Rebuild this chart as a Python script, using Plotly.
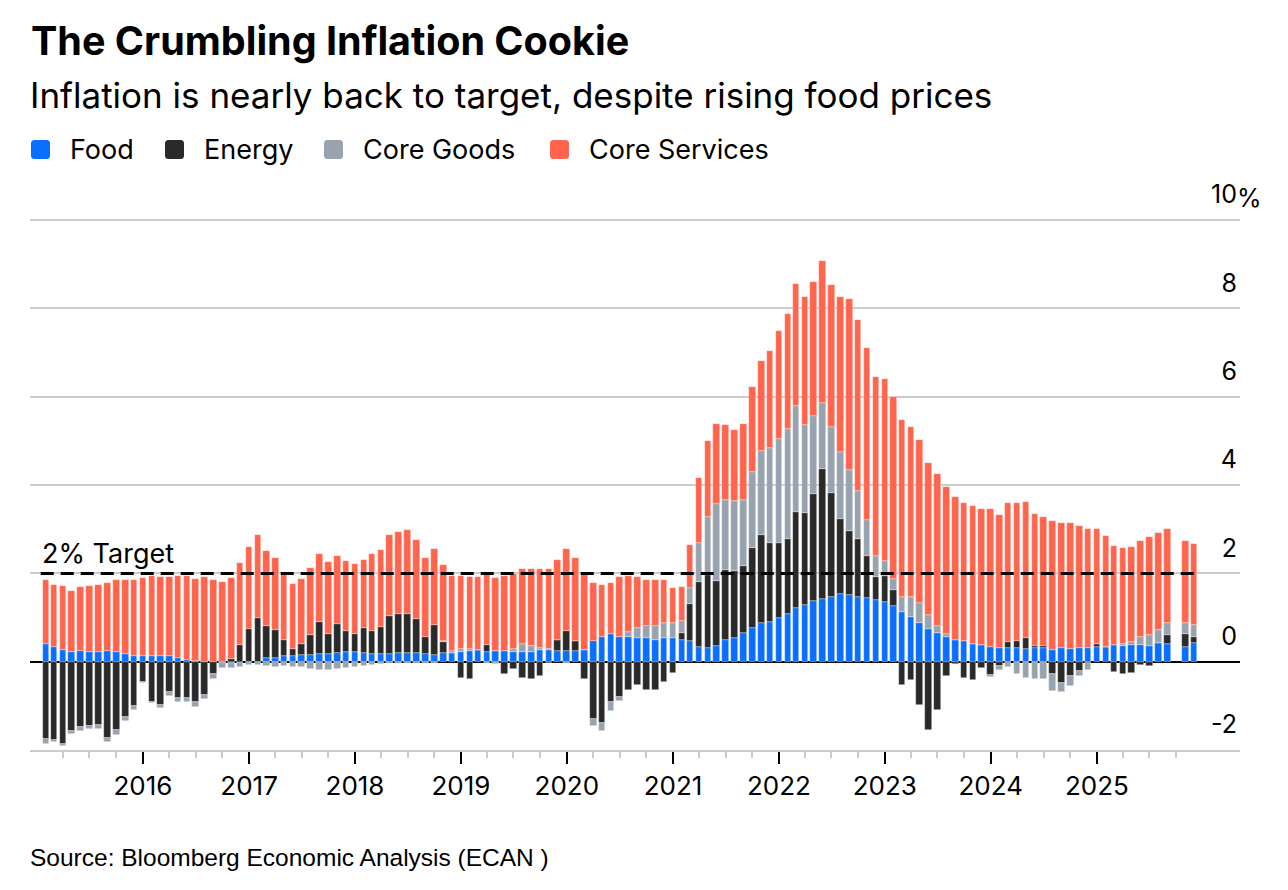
import plotly.graph_objects as go
import pandas as pd

# ---------------- data ----------------
months = pd.date_range("2015-02-01", "2025-12-01", freq="MS").strftime("%Y-%m-%d").tolist()

food = [0.41, 0.33, 0.27, 0.21, 0.25, 0.23, 0.22, 0.24, 0.23, 0.18, 0.12,
        0.12, 0.14, 0.12, 0.13, 0.09, 0.04, 0.02, 0.00, -0.01, -0.04, -0.04, -0.02,
        -0.01, 0.00, 0.08, 0.08, 0.12, 0.12, 0.15, 0.15, 0.17, 0.18, 0.19, 0.21,
        0.22, 0.20, 0.18, 0.18, 0.18, 0.19, 0.19, 0.19, 0.18, 0.15, 0.20, 0.20,
        0.21, 0.25, 0.27, 0.23, 0.25, 0.25, 0.23, 0.23, 0.23, 0.27, 0.27, 0.24,
        0.24, 0.24, 0.26, 0.48, 0.56, 0.62, 0.56, 0.57, 0.54, 0.54, 0.50, 0.54,
        0.53, 0.50, 0.48, 0.33, 0.31, 0.35, 0.49, 0.53, 0.64, 0.76, 0.87, 0.90,
        0.98, 1.09, 1.22, 1.29, 1.38, 1.41, 1.47, 1.53, 1.52, 1.47, 1.44, 1.40,
        1.35, 1.26, 1.12, 1.02, 0.88, 0.75, 0.64, 0.56, 0.49, 0.46, 0.40, 0.38,
        0.34, 0.30, 0.30, 0.30, 0.28, 0.30, 0.30, 0.27, 0.30, 0.28, 0.30, 0.32,
        0.33, 0.33, 0.38, 0.36, 0.37, 0.38, 0.36, 0.42, 0.41, None, 0.34, 0.42]

energy = [-1.76, -1.77, -1.86, -1.58, -1.48, -1.45, -1.43, -1.73, -1.54, -1.25, -1.01,
          -0.47, -0.92, -0.98, -0.69, -0.83, -0.82, -0.92, -0.75, -0.26, 0.00, 0.07, 0.37,
          0.73, 0.98, 0.72, 0.63, 0.38, 0.17, 0.24, 0.46, 0.72, 0.45, 0.66, 0.49,
          0.41, 0.56, 0.51, 0.60, 0.86, 0.90, 0.90, 0.77, 0.39, 0.69, 0.24, 0.00,
          -0.36, -0.40, 0.00, 0.14, 0.00, -0.27, -0.16, -0.36, -0.39, -0.33, -0.04, 0.26,
          0.45, 0.23, -0.40, -1.29, -1.39, -0.92, -0.81, -0.63, -0.53, -0.64, -0.64, -0.47,
          -0.25, 0.15, 0.83, 1.47, 1.65, 1.47, 1.59, 1.53, 1.53, 1.82, 2.00, 1.79,
          1.70, 1.68, 2.18, 2.07, 2.41, 2.95, 2.36, 1.71, 1.43, 1.30, 0.95, 0.52,
          0.58, 0.37, -0.52, -0.42, -0.99, -1.54, -1.10, -0.33, -0.06, -0.37, -0.42, -0.14,
          -0.31, -0.10, 0.14, 0.18, 0.26, 0.06, 0.06, -0.28, -0.48, -0.33, -0.20, -0.03,
          0.06, 0.00, -0.23, -0.28, -0.25, -0.07, -0.10, 0.00, 0.19, None, 0.28, 0.15]

core_goods = [-0.10, -0.04, -0.05, -0.05, -0.08, -0.08, -0.09, -0.08, -0.11, -0.10, -0.09,
              -0.02, -0.02, -0.07, -0.08, -0.09, -0.10, -0.10, -0.09, -0.12, -0.11, -0.10, -0.11,
              -0.06, -0.08, -0.10, -0.11, -0.10, -0.11, -0.11, -0.17, -0.19, -0.19, -0.16, -0.14,
              -0.13, -0.09, -0.07, -0.05, -0.04, -0.03, -0.03, -0.03, -0.02, -0.02, 0.02, 0.04,
              0.08, 0.04, 0.00, -0.02, -0.06, 0.00, 0.06, 0.17, 0.13, 0.05, 0.02, 0.00,
              -0.03, 0.00, 0.00, -0.16, -0.17, -0.20, -0.08, 0.10, 0.23, 0.26, 0.30, 0.34,
              0.35, 0.27, 0.35, 0.88, 1.31, 1.75, 1.59, 1.57, 1.50, 1.71, 1.90, 2.16,
              2.37, 2.50, 2.40, 2.00, 1.77, 1.51, 1.48, 1.52, 1.40, 1.09, 0.81, 0.47,
              0.35, 0.24, 0.34, 0.44, 0.45, 0.30, 0.17, 0.06, 0.00, 0.00, 0.00, 0.00,
              -0.04, -0.08, -0.12, -0.28, -0.37, -0.39, -0.40, -0.39, -0.21, -0.21, -0.13, -0.15,
              0.00, 0.00, 0.00, 0.05, 0.08, 0.18, 0.24, 0.30, 0.28, None, 0.25, 0.26]

core_services = [1.43, 1.40, 1.44, 1.40, 1.44, 1.49, 1.51, 1.55, 1.62, 1.68, 1.72,
                 1.77, 1.81, 1.79, 1.79, 1.86, 1.89, 1.86, 1.91, 1.86, 1.81, 1.82, 1.87,
                 1.87, 1.88, 1.71, 1.63, 1.47, 1.48, 1.48, 1.51, 1.56, 1.63, 1.55, 1.57,
                 1.58, 1.55, 1.74, 1.75, 1.82, 1.84, 1.89, 1.80, 1.78, 1.72, 1.73, 1.71,
                 1.64, 1.63, 1.65, 1.60, 1.64, 1.70, 1.69, 1.71, 1.75, 1.79, 1.82, 1.81,
                 1.86, 1.88, 1.71, 1.30, 1.17, 1.16, 1.35, 1.28, 1.14, 1.04, 1.04, 0.97,
                 0.78, 0.77, 0.99, 1.48, 1.73, 1.82, 1.69, 1.62, 1.72, 1.94, 2.05, 2.19,
                 2.43, 2.61, 2.75, 2.89, 3.03, 3.20, 3.22, 3.50, 3.86, 3.89, 3.91, 4.06,
                 4.13, 4.13, 4.02, 3.85, 3.69, 3.44, 3.44, 3.34, 3.24, 3.13, 3.13, 3.08,
                 3.11, 3.03, 3.15, 3.12, 3.08, 2.98, 2.91, 2.91, 2.83, 2.85, 2.77, 2.69,
                 2.61, 2.51, 2.24, 2.16, 2.15, 2.17, 2.23, 2.19, 2.13, None, 1.87, 1.84]

series_names = ["Food", "Energy", "Core Goods", "Core Services"]
series_values = [food, energy, core_goods, core_services]
series_colors = ["#0A6EFF", "#2A2A2A", "#98A3AF", "#FF654D"]

year_ticks = [str(y) for y in range(2016, 2026)]
y_tickvals = [-2, 0, 2, 4, 6, 8, 10]
y_ticktext = ["-2", "0", "2", "4", "6", "8", "10"]
target = 2

# ---------------- figure ----------------
FONT = "Inter"
DAY_MS = 86400000
W, H = 1288, 890
ML, MR, MT, MB = 30, 48, 176, 140
PW, PH = W - ML - MR, H - MT - MB


def px_x(p):
    return (p - ML) / PW


def px_y(p):
    return (H - MB - p) / PH


fig = go.Figure()
for name, vals, col in zip(series_names, series_values, series_colors):
    fig.add_trace(go.Bar(
        x=months, y=vals, name=name,
        width=23 * DAY_MS,
        marker=dict(color=col, line=dict(color="rgba(255,255,255,0.55)", width=0.6)),
        hovertemplate="%{x|%b %Y}: %{y:.2f}<extra>" + name + "</extra>",
        showlegend=False,
    ))

# target line
fig.add_shape(type="line", xref="x", yref="y",
              x0="2015-01-14", x1="2025-12-24", y0=target, y1=target,
              line=dict(color="black", width=3, dash="13px,7px"), layer="above")

# manual legend (rounded squares + labels)
legend_text_x = [69, 203, 362, 588]
legend_cy = 149.5
sq = 19
r = 3.5
for name, col, tx in zip(series_names, series_colors, legend_text_x):
    x0p, x1p = tx - 38, tx - 38 + sq
    y0p, y1p = legend_cy - sq / 2, legend_cy + sq / 2
    X0, X1 = px_x(x0p), px_x(x1p)
    Y0, Y1 = px_y(y1p), px_y(y0p)  # Y0 bottom, Y1 top in paper
    rx, ry = r / PW, r / PH
    path = (f"M{X0 + rx},{Y0} L{X1 - rx},{Y0} Q{X1},{Y0} {X1},{Y0 + ry} "
            f"L{X1},{Y1 - ry} Q{X1},{Y1} {X1 - rx},{Y1} "
            f"L{X0 + rx},{Y1} Q{X0},{Y1} {X0},{Y1 - ry} "
            f"L{X0},{Y0 + ry} Q{X0},{Y0} {X0 + rx},{Y0} Z")
    fig.add_shape(type="path", xref="paper", yref="paper", path=path,
                  fillcolor=col, line=dict(width=0))

annotations = [
    dict(text="<b>The Crumbling Inflation Cookie</b>", x=px_x(28.5), y=px_y(40.5),
         xref="paper", yref="paper", xanchor="left", yanchor="middle", showarrow=False,
         font=dict(family=FONT, size=39.5, color="black")),
    dict(text="Inflation is nearly back to target, despite rising food prices",
         x=px_x(28), y=px_y(95), xref="paper", yref="paper",
         xanchor="left", yanchor="middle", showarrow=False,
         font=dict(family=FONT, size=35, color="black")),
    dict(text="Source: Bloomberg Economic Analysis (ECAN )", x=px_x(28), y=px_y(857),
         xref="paper", yref="paper", xanchor="left", yanchor="middle", showarrow=False,
         font=dict(family="Liberation Sans", size=24.5, color="black")),
    dict(text="2% Target", x=px_x(40), y=target, xref="paper", yref="y",
         xanchor="left", yanchor="middle", yshift=20, showarrow=False,
         font=dict(family=FONT, size=27, color="black")),
    dict(text="%", x=1, y=10, xref="paper", yref="y", xanchor="left", yanchor="middle",
         xshift=-5, yshift=22, showarrow=False,
         font=dict(family=FONT, size=25, color="black")),
]
for name, tx in zip(series_names, legend_text_x):
    annotations.append(dict(text=name, x=px_x(tx - 1), y=px_y(legend_cy), xref="paper",
                            yref="paper", xanchor="left", yanchor="middle", showarrow=False,
                            font=dict(family=FONT, size=27, color="black")))

fig.update_layout(
    width=W, height=H,
    margin=dict(l=ML, r=MR, t=MT, b=MB, pad=0),
    paper_bgcolor="white", plot_bgcolor="white",
    barmode="relative", bargap=0,
    font=dict(family=FONT, color="black"),
    showlegend=False,
    annotations=annotations,
    hovermode="closest",
)

fig.update_xaxes(
    type="date", range=["2014-12-08", "2026-05-09"],
    tickmode="array", tickvals=[f"{y}-01-01" for y in year_ticks], ticktext=year_ticks,
    ticks="outside", ticklen=12, tickwidth=1.5, tickcolor="black",
    showline=True, linecolor="#cccccc", linewidth=2,
    showgrid=False, zeroline=False,
    tickfont=dict(family=FONT, size=26, color="black"),
    minor=dict(ticks="outside", tickmode="array",
               tickvals=pd.date_range("2015-04-01", "2025-10-01", freq="QS").strftime("%Y-%m-%d").tolist(),
               ticklen=6, tickwidth=1.5, tickcolor="#cccccc", showgrid=False),
    fixedrange=True,
)

fig.update_yaxes(
    side="right", range=[-2, 11],
    tickmode="array", tickvals=y_tickvals, ticktext=y_ticktext,
    ticklabelposition="inside top", ticklabelshift=-8, ticks="",
    showgrid=True, gridcolor="#cccccc", gridwidth=1.5,
    zeroline=True, zerolinecolor="black", zerolinewidth=1.5,
    showline=False,
    tickfont=dict(family=FONT, size=25, color="black"),
    fixedrange=True,
)

fig.write_html("out.html")
